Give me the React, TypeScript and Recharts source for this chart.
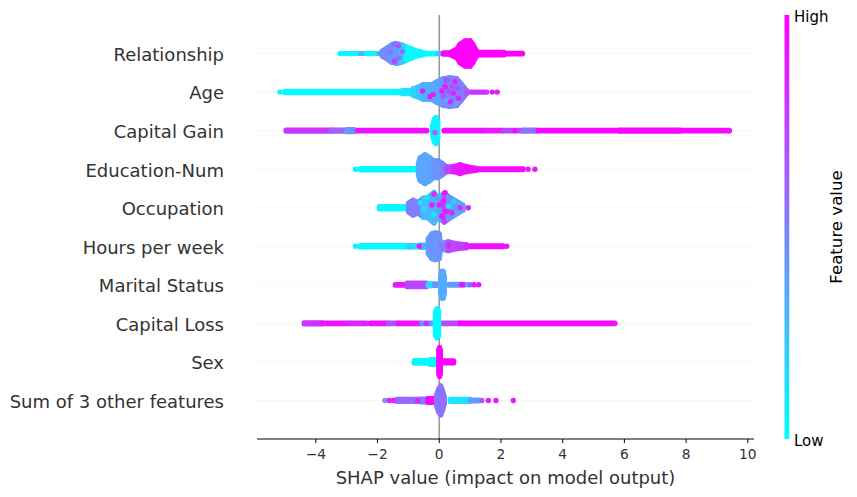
import { ScatterChart, Scatter, XAxis, YAxis, CartesianGrid, ReferenceLine } from "recharts";

const FEATURES = [
  "Relationship", "Age", "Capital Gain", "Education-Num", "Occupation",
  "Hours per week", "Marital Status", "Capital Loss", "Sex", "Sum of 3 other features",
];
const X_TICKS = [-4, -2, 0, 2, 4, 6, 8, 10];
const ROW_TICKS = [0, 1, 2, 3, 4, 5, 6, 7, 8, 9];

// runs: [from, to, feature value, spread]
// stacks: [shap value, spread, feature value]
// dots: [shap value, offset, feature value]
const relationshipRuns = [
  [-3.22, -2.0, 0.02, 0], [-2.55, -2.5, 0.3, 0], [-1.95, -1.9, 0.35, 0], [-0.9, -0.1, 0.02, 0.01],
  [-0.05, 0.05, 0.25, 0], [0.13, 0.5, 1, 0.02], [1.2, 2.1, 1, 0.035], [2.1, 2.7, 1, 0.01],
];
const relationshipStacks = [
  [-1.86, 0.065, 0.45], [-1.7, 0.14, 0.45], [-1.54, 0.23, 0.42], [-1.38, 0.26, 0.38], [-1.22, 0.23, 0.2],
  [-1.05, 0.17, 0.02], [-0.89, 0.12, 0.02], [-0.73, 0.065, 0.02], [-0.52, 0.03, 0.02],
  [0.35, 0.03, 1], [0.57, 0.115, 1], [0.67, 0.24, 1], [0.84, 0.33, 1], [1.0, 0.33, 1], [1.09, 0.24, 1], [1.21, 0.065, 1],
];
const relationshipDots = [
  [-1.32, 0.2, 0.7], [-1.45, -0.2, 0.75], [-1.2, 0.05, 0.6], [-1.45, 0.25, 0.6], [-1.6, 0.05, 0.55], [-1.3, -0.1, 0.55],
];

const ageRuns = [
  [-5.0, -1.2, 0.02, 0.02], [-1.2, -0.8, 0.1, 0.04], [1.0, 1.54, 0.8, 0.005],
];
const ageStacks = [
  [-0.85, 0.09, 0.18], [-0.68, 0.13, 0.25], [-0.52, 0.195, 0.3], [-0.25, 0.195, 0.34], [-0.08, 0.27, 0.36],
  [0.13, 0.35, 0.44], [0.35, 0.376, 0.48], [0.57, 0.35, 0.5], [0.73, 0.195, 0.52], [0.89, 0.04, 0.65],
];
const ageDots = [
  [-5.16, 0, 0.05], [1.72, 0, 0.9], [1.88, 0, 0.9], [-0.54, 0.03, 0.88], [-0.3, -0.12, 0.88], [-0.2, -0.06, 0.85],
  [0.08, 0.03, 0.9], [0.19, 0.14, 0.88], [0.35, -0.25, 0.88], [0.24, 0.31, 0.85], [0.51, 0.27, 0.85],
  [0.62, -0.16, 0.85], [0.46, -0.03, 0.88], [0.3, 0.02, 0.7], [0.42, 0.14, 0.7], [0.22, -0.2, 0.35], [0.55, -0.28, 0.35],
  [0.3, 0.3, 0.6], [0.6, 0.1, 0.62], [0.14, -0.1, 0.65],
];

const capitalGainRuns = [
  [-4.97, -3.5, 0.78, 0.015], [-3.5, -3.0, 0.62, 0.015], [-3.0, -2.75, 0.42, 0.03],
  [-2.65, -0.4, 0.95, 0.01], [0.15, 1.42, 0.95, 0.01], [1.42, 2.07, 0.9, 0.01], [2.07, 2.72, 0.74, 0.01],
  [2.72, 3.16, 0.55, 0.015], [3.2, 5.86, 0.98, 0.012], [5.86, 7.8, 0.98, 0.016], [7.8, 9.4, 0.98, 0.012],
];
const capitalGainStacks = [
  [-0.22, 0.12, 0.05], [-0.16, 0.3, 0.03], [-0.1, 0.34, 0.03], [-0.05, 0.24, 0.05],
];
const capitalGainDots = [[9.4, 0, 0.9], [2.45, 0, 0.95], [-0.14, -0.05, 0.6]];

const educationRuns = [
  [-2.56, -0.73, 0.02, 0.02], [1.0, 2.72, 0.95, 0.012],
];
const educationStacks = [
  [-0.68, 0.15, 0.33], [-0.62, 0.3, 0.35], [-0.46, 0.376, 0.35], [-0.3, 0.3, 0.36], [-0.19, 0.22, 0.42], [-0.04, 0.22, 0.42],
  [0.11, 0.143, 0.5], [0.24, 0.065, 0.72], [0.45, 0.065, 0.88], [0.67, 0.117, 0.92], [0.89, 0.065, 0.95], [1.2, 0.026, 0.95],
];
const educationDots = [[-2.71, 0, 0.05], [2.88, 0, 0.9], [3.1, 0, 0.9]];

const occupationRuns = [[-1.95, -1.11, 0.02, 0.03]];
const occupationStacks = [
  [-1.0, 0.117, 0.5], [-0.85, 0.195, 0.5], [-0.68, 0.143, 0.5], [-0.52, 0.246, 0.25], [-0.36, 0.27, 0.28],
  [-0.17, 0.4, 0.3], [-0.04, 0.246, 0.35], [0.16, 0.376, 0.75], [0.29, 0.3, 0.42], [0.45, 0.22, 0.38], [0.61, 0.143, 0.35], [0.77, 0.065, 0.4],
];
const occupationDots = [
  [-0.17, 0.35, 0.8], [-0.24, 0.07, 0.9], [0.0, 0.07, 0.9], [0.19, 0.39, 0.9], [0.24, -0.09, 0.9], [0.4, -0.13, 0.85],
  [0.67, 0, 0.8], [0.08, -0.22, 0.9], [0.13, 0.17, 0.9], [0.3, 0.04, 0.1], [0.46, 0.17, 0.2], [-0.4, 0.26, 0.1],
  [-0.62, 0.13, 0.1], [-0.52, -0.04, 0.15], [-0.17, -0.17, 0.1], [0.94, 0, 0.85],
];

const hoursRuns = [
  [-2.56, -0.55, 0.02, 0.02], [-1.0, -0.85, 0.18, 0.02], [-0.6, -0.45, 0.3, 0.03], [1.0, 2.07, 0.95, 0.012],
];
const hoursStacks = [
  [-0.36, 0.195, 0.4], [-0.24, 0.324, 0.42], [-0.12, 0.35, 0.42], [0.0, 0.324, 0.42],
  [0.05, 0.065, 0.5], [0.29, 0.117, 0.7], [0.57, 0.065, 0.75], [0.89, 0.04, 0.85],
];
const hoursDots = [[-2.71, 0, 0.05], [-0.65, 0, 0.9], [2.19, 0, 0.9], [0.3, 0.02, 0.85]];

const maritalRuns = [
  [-1.43, -1.05, 0.9, 0.01], [-1.05, -0.41, 0.72, 0.05], [-0.36, -0.15, 0.15, 0.025], [-0.15, -0.02, 0.42, 0.02],
  [0.3, 0.77, 0.4, 0.013], [0.72, 0.85, 0.95, 0],
];
const maritalStacks = [[0.04, 0.2, 0.33], [0.08, 0.35, 0.33], [0.13, 0.35, 0.33], [0.17, 0.2, 0.33]];
const maritalDots = [[0.92, 0, 0.25], [1.0, 0, 0.6], [1.13, 0, 0.9], [1.28, 0, 0.9]];

const capitalLossRuns = [
  [-4.38, -3.8, 0.8, 0.015], [-3.8, -2.9, 0.92, 0.01], [-2.9, -2.35, 0.85, 0.01], [-2.24, -1.65, 0.95, 0.01],
  [-1.65, -1.33, 0.68, 0.01], [-1.33, -0.6, 0.95, 0.01], [-0.57, -0.15, 0.4, 0.01],
  [0.08, 0.67, 0.72, 0.01], [0.67, 5.69, 0.98, 0.012],
];
const capitalLossStacks = [[-0.13, 0.3, 0.02], [-0.08, 0.376, 0.02], [-0.02, 0.33, 0.02]];
const capitalLossDots = [[-0.42, 0, 0.9], [5.69, 0, 0.92]];

const sexRuns = [[-0.81, -0.3, 0.02, 0.035], [-0.3, -0.05, 0.02, 0.065], [0.13, 0.47, 1, 0.03]];
const sexStacks = [[-0.02, 0.32, 1], [0.01, 0.376, 1], [0.04, 0.3, 1]];
const sexDots = [[-0.81, 0, 0.05]];

const otherRuns = [
  [-1.38, -0.62, 0.58, 0.03], [-0.62, -0.37, 0.52, 0.04], [-0.37, -0.15, 1, 0.05],
  [0.35, 1.0, 0.1, 0.03], [1.0, 1.28, 0.4, 0.012],
];
const otherStacks = [
  [-0.09, 0.15, 0.55], [-0.02, 0.3, 0.55], [0.05, 0.376, 0.55], [0.11, 0.25, 0.55], [0.17, 0.08, 0.55],
];
const otherDots = [
  [-1.76, 0, 0.35], [-1.62, 0, 0.9], [-1.49, 0, 0.9], [-0.7, 0, 0.9], [1.38, 0, 0.65], [1.59, 0, 0.9], [1.84, 0, 0.9], [2.4, 0, 0.9],
];

const ROWS = [
  { runs: relationshipRuns, stacks: relationshipStacks, dots: relationshipDots },
  { runs: ageRuns, stacks: ageStacks, dots: ageDots },
  { runs: capitalGainRuns, stacks: capitalGainStacks, dots: capitalGainDots },
  { runs: educationRuns, stacks: educationStacks, dots: educationDots },
  { runs: occupationRuns, stacks: occupationStacks, dots: occupationDots },
  { runs: hoursRuns, stacks: hoursStacks, dots: hoursDots },
  { runs: maritalRuns, stacks: maritalStacks, dots: maritalDots },
  { runs: capitalLossRuns, stacks: capitalLossStacks, dots: capitalLossDots },
  { runs: sexRuns, stacks: sexStacks, dots: sexDots },
  { runs: otherRuns, stacks: otherStacks, dots: otherDots },
];

const FONT = "'DejaVu Sans', sans-serif";

// matplotlib "cool" colormap
const cool = (t: number) => `rgb(${Math.round(255 * t)},${Math.round(255 * (1 - t))},255)`;
const lineFor = (t: number) => ({
  stroke: cool(t), strokeWidth: 5, strokeLinecap: "round", strokeLinejoin: "round", fill: cool(t),
});
const NoDot = () => null;
const SwarmDot = (p: any) => <circle cx={p.cx} cy={p.cy} r={2.7} fill={cool(p.payload.tone)} />;

// neighbouring stacks closer than this are joined into one body outline
const JOIN_GAP = 0.4;

export default function App() {
  return (
    <div style={{ position: "absolute", left: 0, top: 0, width: 857, height: 497 }}>
      <ScatterChart width={857} height={497} margin={{ top: 15, right: 103, bottom: 0, left: 0 }}>
        <defs>
          <linearGradient id="coolBar" x1="0" y1="1" x2="0" y2="0">
            <stop offset="0%" stopColor={cool(0)} />
            <stop offset="100%" stopColor={cool(1)} />
          </linearGradient>
        </defs>
        <CartesianGrid
          vertical={false}
          horizontalValues={ROW_TICKS}
          stroke="#cccccc"
          strokeDasharray="1 3"
          strokeOpacity={0.6}
        />
        <XAxis
          type="number"
          dataKey="x"
          domain={[-5.906, 10.2]}
          ticks={X_TICKS}
          height={58}
          stroke="#000000"
          tick={{ fill: "#333333", fontSize: 13.8, fontFamily: FONT }}
          tickSize={4}
          tickMargin={6}
          tickFormatter={(v: number) => (v < 0 ? `\u2212${-v}` : `${v}`)}
          label={{
            value: "SHAP value (impact on model output)",
            position: "insideBottom",
            offset: 13,
            fill: "#333333",
            fontSize: 18,
            fontFamily: FONT,
          }}
        />
        <YAxis
          type="number"
          dataKey="y"
          domain={[-1, 10]}
          ticks={ROW_TICKS}
          width={257}
          axisLine={false}
          tickLine={false}
          tickMargin={27}
          tick={{ fill: "#333333", fontSize: 18, fontFamily: FONT, dy: 1 }}
          tickFormatter={(v: number) => FEATURES[9 - v]}
        />
        <ReferenceLine x={0} stroke="#999999" strokeWidth={1.6} />
        {ROWS.flatMap((row, i) => {
          const base = 9 - i;
          return [
            ...row.runs.map(([from, to, tone, spread], j) => (
              <Scatter
                key={`run-${i}-${j}`}
                data={[
                  { x: from, y: base + spread },
                  { x: to, y: base + spread },
                  { x: to, y: base - spread },
                  { x: from, y: base - spread },
                  { x: from, y: base + spread },
                ]}
                line={lineFor(tone)}
                shape={NoDot}
                isAnimationActive={false}
              />
            )),
            ...row.stacks.map(([x, spread, tone], j) => {
              const next = row.stacks[j + 1];
              const joined = next && next[0] - x < JOIN_GAP;
              const outline = joined
                ? [
                    { x, y: base + spread },
                    { x: next[0], y: base + next[1] },
                    { x: next[0], y: base - next[1] },
                    { x, y: base - spread },
                    { x, y: base + spread },
                  ]
                : [{ x, y: base + spread }, { x, y: base - spread }];
              return (
                <Scatter
                  key={`stack-${i}-${j}`}
                  data={outline}
                  line={lineFor(tone)}
                  shape={NoDot}
                  isAnimationActive={false}
                />
              );
            }),
            <Scatter
              key={`dots-${i}`}
              data={row.dots.map(([x, offset, tone]) => ({ x, y: base + offset, tone }))}
              shape={SwarmDot}
              isAnimationActive={false}
            />,
          ];
        })}
        {/* colour bar */}
        <rect x={784.5} y={15} width={4.8} height={424} fill="url(#coolBar)" />
        <text x={794} y={22} fontSize={15} fontFamily={FONT} fill="#000">High</text>
        <text x={794} y={446} fontSize={15} fontFamily={FONT} fill="#000">Low</text>
        <text
          x={842}
          y={227}
          fontSize={16.6}
          fontFamily={FONT}
          fill="#000"
          textAnchor="middle"
          transform="rotate(-90 842 227)"
        >
          Feature value
        </text>
      </ScatterChart>
    </div>
  );
}
